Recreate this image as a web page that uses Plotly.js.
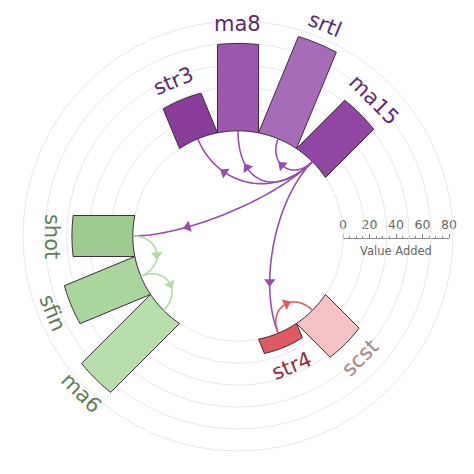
<!DOCTYPE html>
<html>
<head>
<meta charset="utf-8">
<script src="https://cdn.plot.ly/plotly-3.0.1.min.js"></script>
<style>
html, body { margin: 0; padding: 0; background: #fff; }
#chart { width: 474px; height: 474px; }
</style>
</head>
<body>
<div id="chart"></div>
<script>
// nodes round the ring, 16 slots of 22.5 degrees
const names = ["str3", "ma8", "srtl", "ma15", "shot", "sfin", "ma6", "str4", "scst"]
const slots = [5, 4, 3, 2, 8, 9, 10, 13, 14]
const values = [32, 66, 78, 51, 46, 57, 73, 11.5, 35.5]
const groups = ["a", "a", "a", "a", "b", "b", "b", "c", "c"]

// links between nodes
const edgeFrom = ["ma15", "ma15", "ma15", "ma15", "ma15", "shot", "sfin", "str4"]
const edgeTo = ["srtl", "ma8", "str3", "shot", "str4", "sfin", "ma6", "scst"]

const axisTicks = [0, 20, 40, 60, 80]

const fillColors = {
    str3: "#8a3c9b", ma8: "#9c58ad", srtl: "#a76cb8", ma15: "#9046a2",
    shot: "#9fcb91", sfin: "#aad59d", ma6: "#b8deac",
    str4: "#df5a60", scst: "#f5c3c6",
}
const labelColors = {
    str3: "#5d2c70", ma8: "#5d2c70", srtl: "#5d2c70", ma15: "#5d2c70",
    shot: "#5f7e56", sfin: "#5f7e56", ma6: "#5f7e56",
    str4: "#9b2a3c", scst: "#a3868c",
}
const lineColors = { a: "#9a4cae", b: "#b3dba7", c: "#e05a60" }

const HOLE = 79.5          // radial units from centre to the r=0 circle
const RMAX = 83
const STEP = 22.5
const HALFW = HOLE * Math.sin(Math.PI / 16)
const DOM = [0.0485, 0.9557]
const rad = d => d * Math.PI / 180
const deg = r => r * 180 / Math.PI

function toPolar(x, y) {
    return { r: Math.hypot(x, y) - HOLE, t: deg(Math.atan2(y, x)) }
}

const traces = []

// bars: straight strips from the hole edge outwards
names.forEach((n, i) => {
    const th = slots[i] * STEP
    const d = HOLE + values[i]
    const pin = deg(Math.asin(HALFW / HOLE))
    const pout = deg(Math.asin(HALFW / d))
    const r = [], t = []
    for (let k = 0; k <= 12; k++) { r.push(0); t.push(th - pin + 2 * pin * k / 12) }
    for (let k = 0; k <= 12; k++) { r.push(values[i]); t.push(th + pout - 2 * pout * k / 12) }
    r.push(r[0]); t.push(t[0])
    traces.push({
        type: "scatterpolar", mode: "lines", r: r, theta: t,
        fill: "toself", fillcolor: fillColors[n],
        line: { color: "#3b2d3d", width: 1 },
        hoverinfo: "skip", showlegend: false,
    })
})

// links: cubic curves, both handles pulled in along the radius
function bez(p, s) {
    const u = 1 - s
    const w = [u * u * u, 3 * u * u * s, 3 * u * s * s, s * s * s]
    return [0, 1].map(c => w[0] * p[0][c] + w[1] * p[1][c] + w[2] * p[2][c] + w[3] * p[3][c])
}
function bezSlope(p, s) {
    const u = 1 - s
    return [0, 1].map(c => 3 * u * u * (p[1][c] - p[0][c]) + 6 * u * s * (p[2][c] - p[1][c]) + 3 * s * s * (p[3][c] - p[2][c]))
}

edgeFrom.forEach((a, j) => {
    const i0 = names.indexOf(a), i1 = names.indexOf(edgeTo[j])
    const a0 = rad(slots[i0] * STEP), a1 = rad(slots[i1] * STEP)
    const near = Math.abs(slots[i1] - slots[i0]) <= 1
    const pull = near ? 0.74 : 0.5
    const tip = near ? 0.55 : 0.7
    const p0 = [HOLE * Math.cos(a0), HOLE * Math.sin(a0)]
    const p3 = [HOLE * Math.cos(a1), HOLE * Math.sin(a1)]
    const pts = [p0, [pull * p0[0], pull * p0[1]], [pull * p3[0], pull * p3[1]], p3]
    const r = [], t = []
    for (let k = 0; k <= 50; k++) {
        const b = bez(pts, k / 50)
        const p = toPolar(b[0], b[1])
        r.push(p.r); t.push(p.t)
    }
    const col = lineColors[groups[i0]]
    traces.push({
        type: "scatterpolar", mode: "lines", r: r, theta: t,
        line: { color: col, width: 1.6 },
        hoverinfo: "skip", showlegend: false,
    })
    const mb = bez(pts, tip)
    const sl = bezSlope(pts, tip)
    const m = toPolar(mb[0], mb[1])
    traces.push({
        type: "scatterpolar", mode: "markers", r: [m.r], theta: [m.t],
        marker: {
            symbol: "triangle-up", size: 10, color: col,
            angle: deg(Math.atan2(sl[0], sl[1])),
        },
        hoverinfo: "skip", showlegend: false,
    })
})

// empty trace so the value axis is drawn
traces.push({ type: "scatter", x: [], y: [], xaxis: "x", yaxis: "y", showlegend: false })

// rotated node labels
const cx = (DOM[0] + DOM[1]) / 2
const scale = (DOM[1] - DOM[0]) / 2 / (HOLE + RMAX)
const annotations = names.map((n, i) => {
    let th = slots[i] * STEP
    const d = HOLE + values[i] + 15
    const ang = (th > 0 && th < 180) ? 90 - th : 270 - th
    return {
        x: cx + d * scale * Math.cos(rad(th)),
        y: cx + d * scale * Math.sin(rad(th)),
        xref: "paper", yref: "paper", xanchor: "center", yanchor: "middle",
        text: n, textangle: ang, showarrow: false,
        font: { family: "DejaVu Sans", size: 21, color: labelColors[n] },
    }
})
annotations.push({
    x: (343 + 449) / 2 / 474, y: (474 - 251) / 474, xref: "paper", yref: "paper",
    text: "Value Added", showarrow: false, xanchor: "center", yanchor: "middle",
    font: { family: "DejaVu Sans", size: 11.5, color: "#666" },
})

const gridVals = [0, 1, 2, 3, 4].map(k => k * RMAX / 5)

const layout = {
    width: 474, height: 474,
    margin: { l: 0, r: 0, t: 0, b: 0 },
    paper_bgcolor: "#fff",
    plot_bgcolor: "rgba(0,0,0,0)",
    font: { family: "DejaVu Sans" },
    showlegend: false,
    polar: {
        domain: { x: DOM, y: DOM },
        bgcolor: "rgba(0,0,0,0)",
        radialaxis: {
            range: [-HOLE, RMAX], tickvals: gridVals, showticklabels: false,
            ticks: "", showline: false, gridcolor: "#e8e8e8", gridwidth: 1,
        },
        angularaxis: {
            showgrid: false, showticklabels: false, ticks: "",
            showline: true, linecolor: "#e8e8e8", linewidth: 1,
        },
    },
    xaxis: {
        domain: [343 / 474, 449 / 474], range: [0, 80], anchor: "free",
        position: (474 - 238) / 474, side: "top",
        tickvals: axisTicks, ticks: "outside", ticklen: 4, tickcolor: "#888",
        tickfont: { size: 12.5, color: "#666" },
        showline: true, linecolor: "#888", linewidth: 1,
        showgrid: false, zeroline: false, fixedrange: true,
        minor: { dtick: 5, ticks: "outside", ticklen: 2, tickcolor: "#888" },
    },
    yaxis: { domain: [0.45, 0.5], range: [0, 1], visible: false, fixedrange: true },
    annotations: annotations,
}

Plotly.newPlot("chart", traces, layout, { displayModeBar: false, staticPlot: true })
</script>
</body>
</html>
